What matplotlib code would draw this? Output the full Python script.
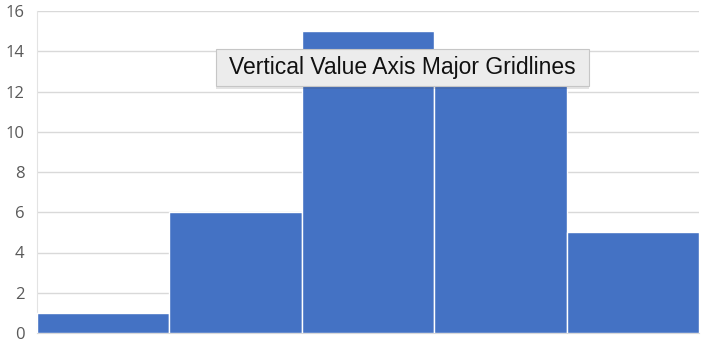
import matplotlib.pyplot as plt
import matplotlib.patches as patches
import matplotlib.patheffects as pe

# histogram bins and counts
bin_edges = [0, 1, 2, 3, 4, 5]
counts = [1, 6, 15, 13, 5]
y_ticks = [0, 2, 4, 6, 8, 10, 12, 14, 16]
tooltip = 'Vertical Value Axis Major Gridlines'

fig = plt.figure(figsize=(7.16, 3.44), dpi=100)
ax = fig.add_axes([37 / 716, 11 / 344, 662 / 716, 322 / 344])

ax.bar(bin_edges[:-1], counts, width=1, align='edge', color='#4472C4',
       edgecolor='white', linewidth=1, zorder=3)

ax.set_xlim(bin_edges[0], bin_edges[-1])
ax.set_ylim(0, 16)
ax.set_yticks(y_ticks)
ax.set_xticks([])
ax.grid(axis='y', color='#d9d9d9', linewidth=1, zorder=0)
ax.tick_params(axis='y', length=0, pad=9, labelsize=12, labelcolor='#595959')
for lab in ax.get_yticklabels():
    lab.set_family('Open Sans')
for side in ['top', 'right']:
    ax.spines[side].set_visible(False)
ax.spines['left'].set_color('#e3e3e3')
ax.spines['bottom'].set_color('#d9d9d9')

# hover tooltip box over the chart
x0, y0, w, h = 216 / 716, 1 - 86 / 344, 373 / 716, 37 / 344
box = patches.Rectangle((x0, y0), w, h, transform=fig.transFigure,
                        facecolor='#ececec', edgecolor='#c6c6c6',
                        linewidth=0.8, zorder=10)
box.set_path_effects([pe.SimplePatchShadow(offset=(0, -2), alpha=0.15), pe.Normal()])
fig.patches.append(box)
fig.text(x0 + w / 2, y0 + h / 2, tooltip, ha='center', va='center',
         fontsize=16.5, family='Liberation Sans', color='#111111', zorder=11)

fig.savefig('out.png', dpi=100)
